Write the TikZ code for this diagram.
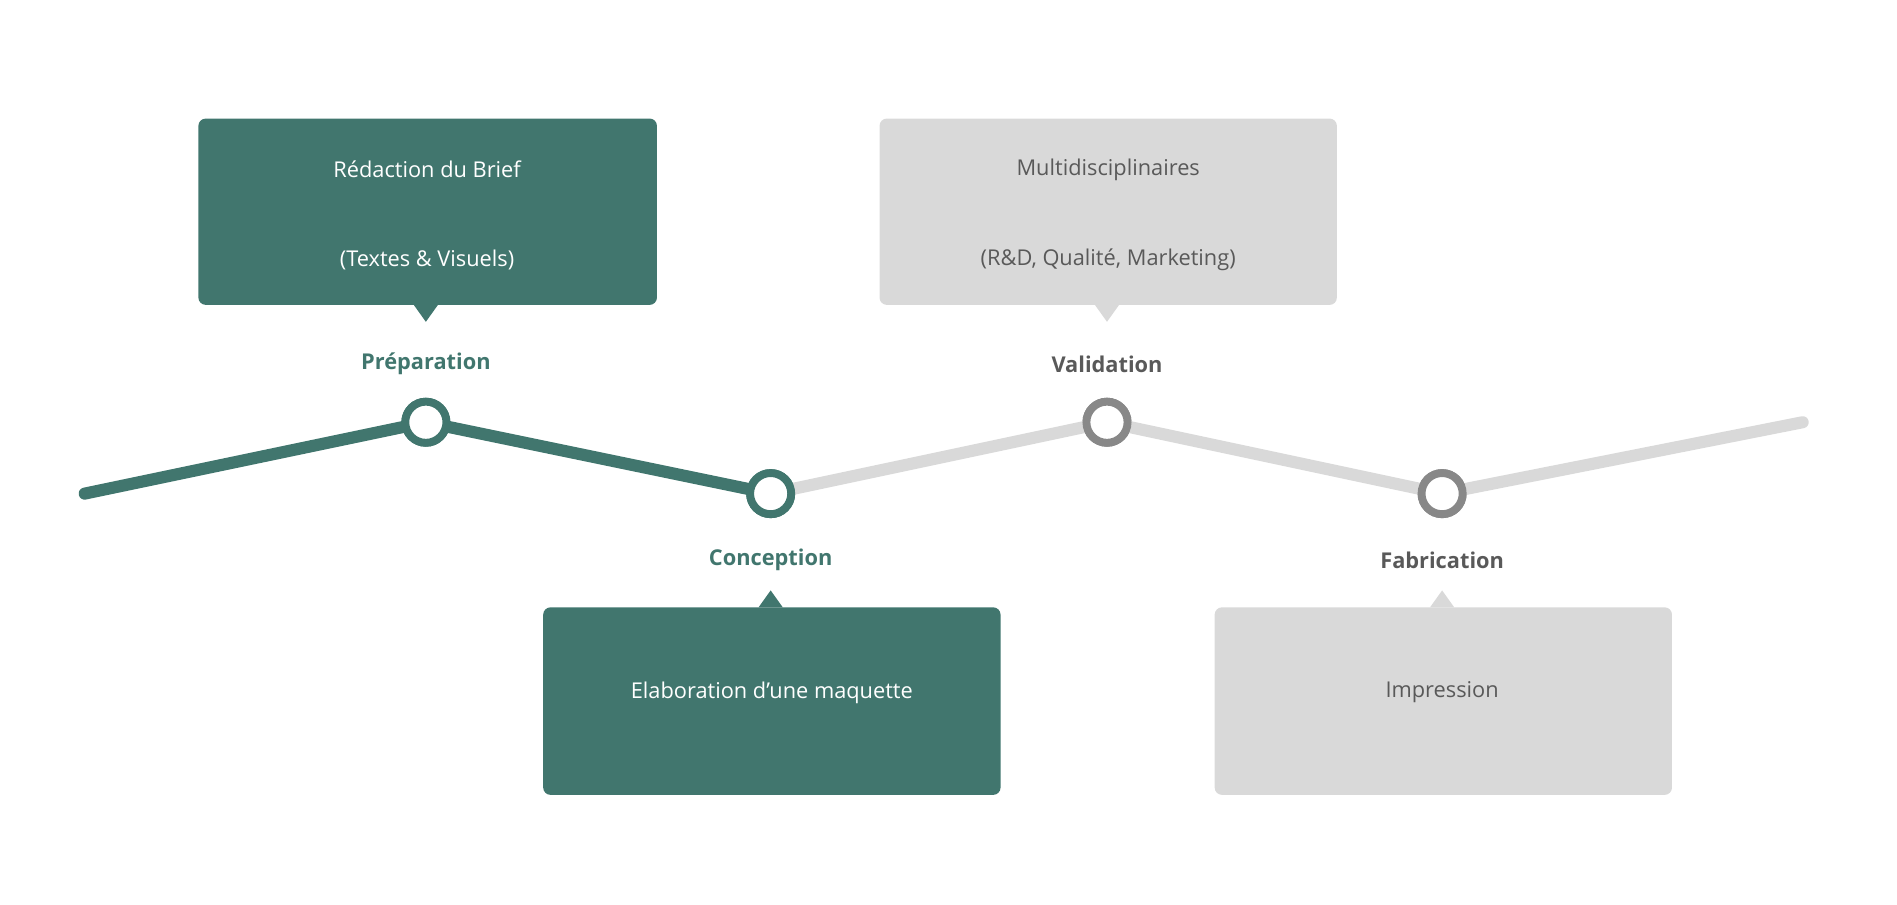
\documentclass[tikz,border=0pt]{standalone}
\usepackage{fontspec}
\setmainfont{Open Sans}
\definecolor{grn}{HTML}{41766E}
\definecolor{lgr}{HTML}{D9D9D9}
\definecolor{dgr}{HTML}{595959}
\definecolor{cgr}{HTML}{888888}
\begin{document}
\begin{tikzpicture}[x=1pt,y=-1pt,
  box/.style={rounded corners=6pt},
  txt/.style={font=\fontsize{18}{20}\selectfont},
  lbl/.style={font=\fontsize{18}{20}\selectfont\bfseries},
  dot/.style={circle,draw,fill=white,line width=6.5pt,minimum size=34pt,inner sep=0pt}]
\useasboundingbox (0,0) rectangle (1568,748);
\coordinate (s) at (70,408);
\coordinate (e) at (1490,349);
\node[dot,draw=grn] (p) at (352,349) {};
\node[dot,draw=grn] (c) at (637,408) {};
\node[dot,draw=cgr] (v) at (915,349) {};
\node[dot,draw=cgr] (f) at (1192,408) {};
\begin{scope}[on background layer/.style={}]
\end{scope}
% lines drawn first behind dots
\draw[lgr,line width=10pt,line cap=round] (c.center) -- (v.center) -- (f.center) -- (e);
\draw[grn,line width=10pt,line cap=round] (s) -- (p.center) -- (c.center);
\node[dot,draw=grn] at (p) {};
\node[dot,draw=grn] at (c) {};
\node[dot,draw=cgr] at (v) {};
\node[dot,draw=cgr] at (f) {};
% boxes
\fill[grn,box] (164,98) rectangle (543,252);
\fill[grn] (342,252) -- (352,266) -- (362,252) -- cycle;
\node[txt,text=white] (b1a) at (353,140) {Rédaction du Brief};
\node[txt,text=white] (b1b) at (353,215) {(Textes \& Visuels)};
\node[lbl,text=grn] (l1) at (352,301) {Préparation};
\fill[lgr,box] (727,98) rectangle (1105,252);
\fill[lgr] (905,252) -- (915,266) -- (925,252) -- cycle;
\node[txt,text=dgr] (b2a) at (916,140) {Multidisciplinaires};
\node[txt,text=dgr] (b2b) at (916,215) {(R\&D, Qualité, Marketing)};
\node[lbl,text=dgr] (l2) at (915,301) {Validation};
\node[lbl,text=grn] (l3) at (637,463) {Conception};
\fill[grn,box] (449,502) rectangle (827,657);
\fill[grn] (627,502) -- (637,488) -- (647,502) -- cycle;
\node[txt,text=white] (b3) at (638,573) {Elaboration d’une maquette};
\node[lbl,text=dgr] (l4) at (1192,463) {Fabrication};
\fill[lgr,box] (1004,502) rectangle (1382,657);
\fill[lgr] (1182,502) -- (1192,488) -- (1202,502) -- cycle;
\node[txt,text=dgr] (b4) at (1192,572) {Impression};
\end{tikzpicture}
\end{document}
